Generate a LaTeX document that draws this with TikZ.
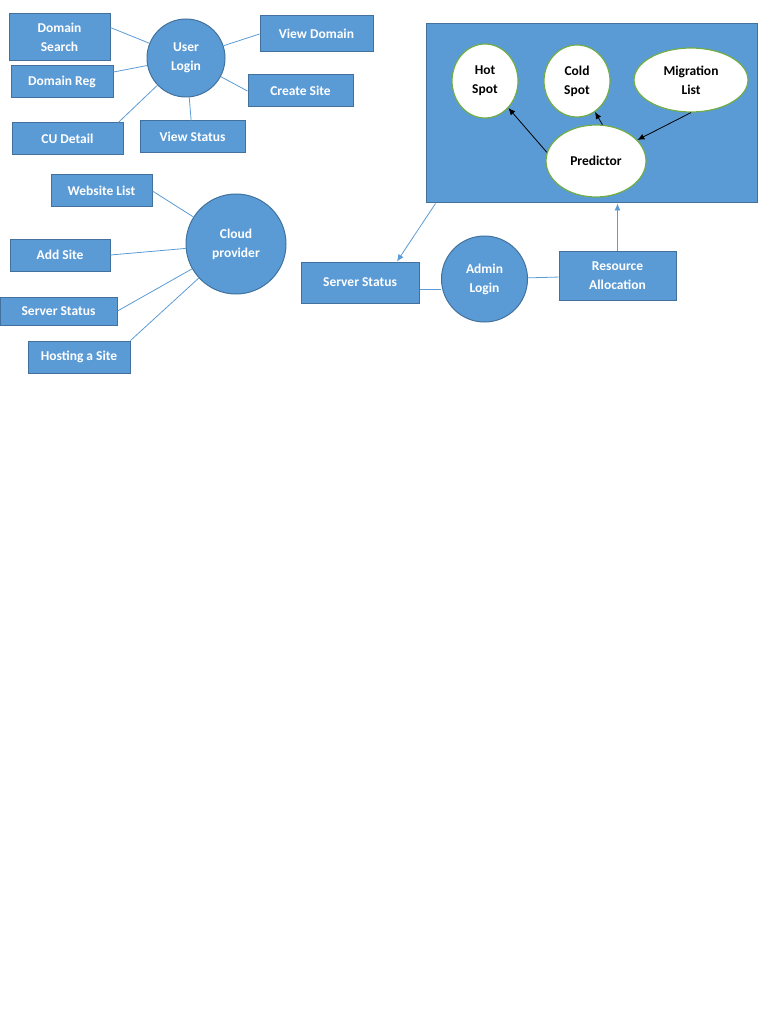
\documentclass[tikz,border=0pt]{standalone}
\usepackage{fontspec}
\setmainfont{Carlito}
\usetikzlibrary{shapes.geometric,arrows.meta}
\definecolor{offblue}{HTML}{5B9BD5}
\definecolor{offedge}{HTML}{41719C}
\definecolor{offgreen}{HTML}{70AD47}

\begin{document}
\begin{tikzpicture}[x=1pt, y=-1pt,
		every node/.style={font=\fontsize{13.5}{19}\selectfont\bfseries, align=center, inner sep=0pt},
		box/.style={draw=offedge, fill=offblue, line width=1pt, rectangle, text=white},
		disc/.style={draw=offedge, fill=offblue, line width=1pt, circle, text=white},
		oval/.style={draw=offgreen, fill=white, line width=1.2pt, ellipse, text=black},
		link/.style={draw=offblue, line width=0.8pt},
		flow/.style={draw=offblue, line width=0.8pt, -{Latex[length=7pt,width=6pt]}},
		pred/.style={draw=black, line width=0.8pt, -{Latex[length=7pt,width=6pt]}}]
				\useasboundingbox (0,0) rectangle (768,1024);
				\node[disc, minimum size=78pt] (ulogin)at(186, 58) {User\\Login};
				\node[box, minimum width=101pt, minimum height=47pt] (dsearch)at(59.5, 37.5) {Domain\\Search};
				\node[box, minimum width=102pt, minimum height=32pt] (dreg)at(62, 82) {Domain Reg};
				\node[box, minimum width=111pt, minimum height=32pt] (cudet)at(67.5, 139) {CU Detail};
				\node[box, minimum width=105pt, minimum height=32pt] (vstatus)at(192.5, 137) {View Status};
				\node[box, minimum width=105pt, minimum height=32pt] (csite)at(300.5, 91) {Create Site};
				\node[box, minimum width=113pt, minimum height=36pt] (vdomain)at(316.5, 34) {View Domain};
				\draw[link] (dsearch.11) -- (ulogin);
				\draw[link] (dreg) -- (ulogin);
				\draw[link] (cudet.18) -- (ulogin);
				\draw[link] (vstatus) -- (ulogin);
				\draw[link] (csite.west) -- (ulogin);
				\draw[link] (vdomain.west) -- (ulogin);

				\node[disc, minimum size=100pt] (cloud)at(236, 244) {Cloud\\provider};
				\node[box, minimum width=101pt, minimum height=32pt] (wlist)at(101.5, 191) {Website List};
				\node[box, minimum width=100pt, minimum height=32pt] (addsite)at(60, 255) {Add Site};
				\node[box, minimum width=117pt, minimum height=28pt] (sstatus)at(58.5, 311) {Server Status};
				\node[box, minimum width=102pt, minimum height=32pt] (hosting)at(79, 357) {Hosting a Site};
				\draw[link] (wlist.east) -- (cloud);
				\draw[link] (addsite.east) -- (cloud);
				\draw[link] (sstatus.east) -- (cloud);
				\draw[link] (hosting.north east) -- (cloud);

				\node[box, minimum width=331pt, minimum height=179pt] (panel)at(591.5, 113.5) {};
				\node[oval, minimum width=66pt, minimum height=74pt] (hot)at(485, 81) {Hot\\Spot};
				\node[oval, minimum width=66pt, minimum height=72pt] (cold)at(577, 81) {Cold\\Spot};
				\node[oval, minimum width=114pt, minimum height=64pt] (mlist)at(691, 80) {Migration\\List};
				\node[oval, minimum width=100pt, minimum height=72pt] (predictor)at(596, 161) {Predictor};
				\draw[pred] (predictor.170) -- (hot);
				\draw[pred] (predictor.80) -- (cold);
				\draw[pred] (mlist.south) -- (predictor);

				\node[box, minimum width=118pt, minimum height=41pt] (srvstatus)at(360, 282.5) {Server Status};
				\node[disc, minimum size=86pt] (alogin)at(484.5, 279) {Admin\\Login};
				\node[box, minimum width=117pt, minimum height=49pt] (resalloc)at(617.5, 275.5) {Resource\\Allocation};
				\draw[link] ([yshift=-7pt]srvstatus.east) -- ([yshift=-7pt]srvstatus.east -| alogin.west);
				\draw[link] (alogin) -- (resalloc);
				\draw[flow] ([xshift=10pt]panel.south west) -- ([xshift=37pt]srvstatus.north);
				\draw[flow] (resalloc.north) -- (resalloc.north |- panel.south);
			\end{tikzpicture}
\end{document}
